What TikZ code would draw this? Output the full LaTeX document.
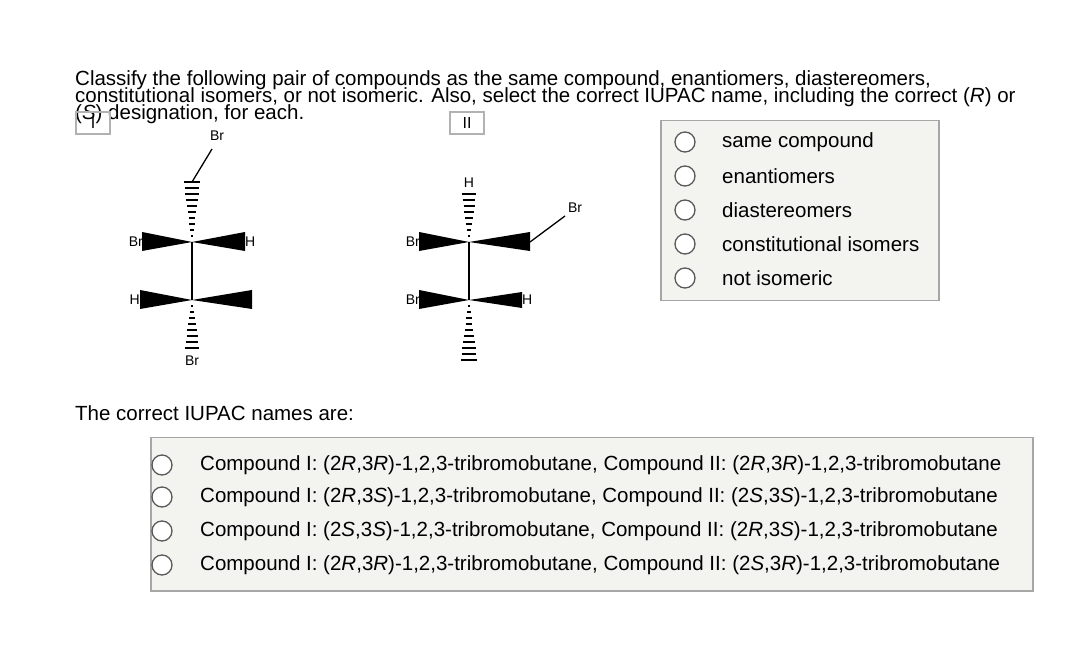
\documentclass[tikz,border=0pt]{standalone}
\usepackage{fontspec}
\setmainfont{Liberation Sans}
\begin{document}
\begin{tikzpicture}[x=1pt,y=-1pt,
  lbl/.style={font=\fontsize{14}{14}\selectfont,inner sep=0pt},
  txt/.style={font=\fontsize{20.5}{20}\selectfont,inner sep=0pt,anchor=west},
  radio/.style={draw=gray!70!black,fill=white,line width=1.3pt},
  panel/.style={draw=gray!70,line width=1.5pt,fill=yellow!8!gray!12},
  hash/.style={line width=1.6pt}]
\useasboundingbox (0,0) rectangle (1080,660);
\node[txt,anchor=base west] (q1) at (75,86) {Classify the following pair of compounds as the same compound, enantiomers, diastereomers,};
\node[txt,anchor=base west] (q2) at (75,103) {constitutional isomers, or not isomeric. Also, select the correct IUPAC name, including the correct (\textit{R}) or};
\node[txt,anchor=base west] (q3) at (75,120) {(\textit{S}) designation, for each.};
% label boxes
\node[draw=gray!60,line width=1.2pt,minimum width=34pt,minimum height=22pt,font=\fontsize{16}{16}\selectfont] (b1) at (93,123) {I};
\node[draw=gray!60,line width=1.2pt,minimum width=34pt,minimum height=22pt,font=\fontsize{16}{16}\selectfont] (b2) at (467,123) {II};
% compound I
\coordinate (c1) at (192,242); \coordinate (c2) at (192,300);
\draw[line width=1.3pt] (c1) -- (c2);
\foreach \i in {0,...,9}{\pgfmathsetmacro\yy{242-6*(\i+1)}\pgfmathsetmacro\w{1+0.8*\i}
  \draw[hash] (192-\w,\yy) -- (192+\w,\yy);}
\coordinate (t1) at (192,182);
\node[lbl] (br1) at (217,136) {Br};
\draw[line width=1.3pt] (t1) -- (212,149);
\fill (c1) -- (142,232) -- (142,251) -- cycle;
\fill (c1) -- (245,232) -- (245,251) -- cycle;
\node[lbl,anchor=east] (br2) at (143,242) {Br};
\node[lbl,anchor=west] (h1) at (245,242) {H};
\fill (c2) -- (140,290) -- (140,309) -- cycle;
\fill (c2) -- (252,290) -- (252,309) -- cycle;
\node[lbl,anchor=east] (h2) at (140,300) {H};
\foreach \i in {0,...,7}{\pgfmathsetmacro\yy{300+6*(\i+1)}\pgfmathsetmacro\w{1+0.9*\i}
  \draw[hash] (192-\w,\yy) -- (192+\w,\yy);}
\node[lbl] (br3) at (192,361) {Br};
% compound II
\coordinate (d1) at (469,242); \coordinate (d2) at (469,300);
\draw[line width=1.3pt] (d1) -- (d2);
\foreach \i in {0,...,7}{\pgfmathsetmacro\yy{242-6*(\i+1)}\pgfmathsetmacro\w{1+0.9*\i}
  \draw[hash] (469-\w,\yy) -- (469+\w,\yy);}
\node[lbl] (h3) at (469,183) {H};
\fill (d1) -- (419,232) -- (419,251) -- cycle;
\fill (d1) -- (530,232) -- (530,251) -- cycle;
\node[lbl,anchor=east] (br4) at (420,242) {Br};
\coordinate (e1) at (530,242);
\node[lbl] (br5) at (575,208) {Br};
\draw[line width=1.3pt] (e1) -- (565,216);
\fill (d2) -- (419,290) -- (419,309) -- cycle;
\fill (d2) -- (522,292) -- (522,308) -- cycle;
\node[lbl,anchor=east] (br6) at (420,300) {Br};
\node[lbl,anchor=west] (h4) at (522,300) {H};
\foreach \i in {0,...,9}{\pgfmathsetmacro\yy{300+6*(\i+1)}\pgfmathsetmacro\w{1+0.8*\i}
  \draw[hash] (469-\w,\yy) -- (469+\w,\yy);}
% right panel
\node[panel,minimum width=278pt,minimum height=180pt,anchor=north west] (p1) at (660,120) {};
\foreach \y/\t [count=\k] in {142/same compound,176/enantiomers,210/diastereomers,244/constitutional isomers,278/not isomeric}{
  \draw[radio] (685,\y) circle (10);
  \node[txt] (o\k) at (722,\y) {\t};}
\node[txt] (nm) at (75,413) {The correct IUPAC names are:};
\node[panel,minimum width=882pt,minimum height=153pt,anchor=north west] (p2) at (150,437) {};
\foreach \y/\t [count=\k] in {
 465/{Compound I: (2\textit{R},3\textit{R})-1,2,3-tribromobutane, Compound II: (2\textit{R},3\textit{R})-1,2,3-tribromobutane},
 497/{Compound I: (2\textit{R},3\textit{S})-1,2,3-tribromobutane, Compound II: (2\textit{S},3\textit{S})-1,2,3-tribromobutane},
 531/{Compound I: (2\textit{S},3\textit{S})-1,2,3-tribromobutane, Compound II: (2\textit{R},3\textit{S})-1,2,3-tribromobutane},
 565/{Compound I: (2\textit{R},3\textit{R})-1,2,3-tribromobutane, Compound II: (2\textit{S},3\textit{R})-1,2,3-tribromobutane}}{
  \draw[radio] (162,\y) circle (10);
  \node[txt] (a\k) at (200,\y) {\t};}
\end{tikzpicture}
\end{document}
